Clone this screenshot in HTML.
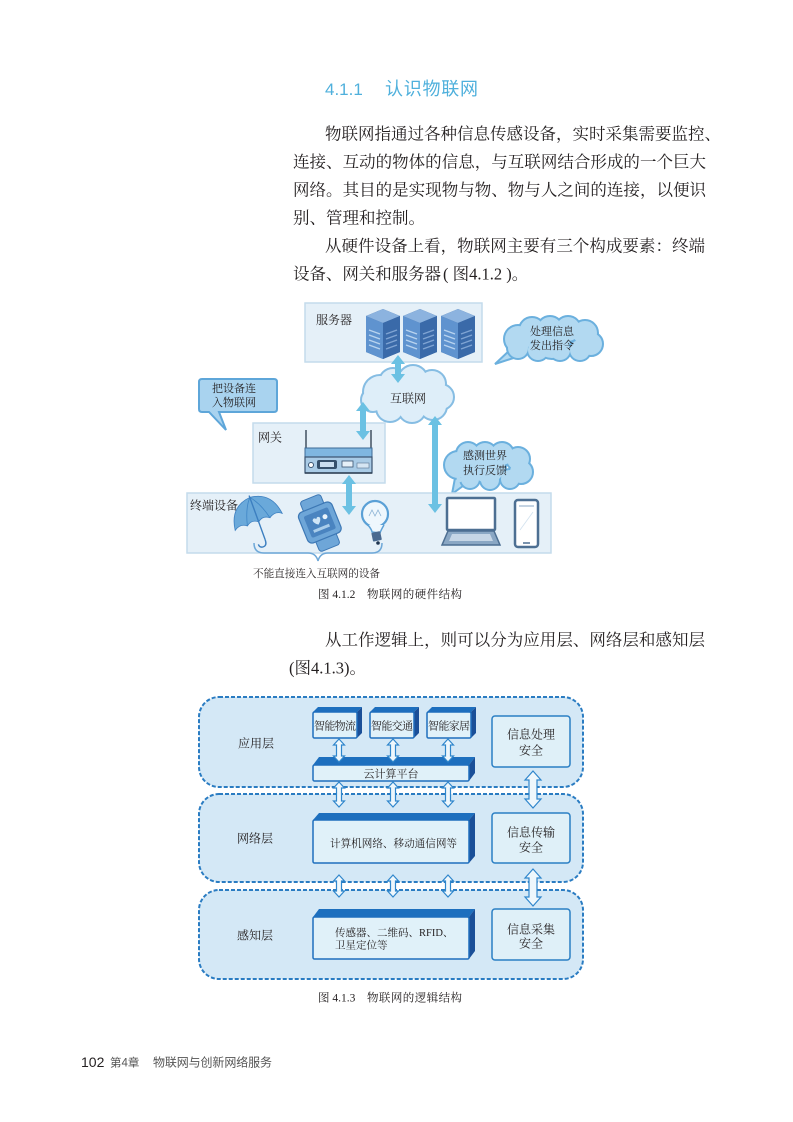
<!DOCTYPE html>
<html><head><meta charset="utf-8"><style>
html,body{margin:0;padding:0;background:#fff;}
svg{display:block;}
.b{font-family:"Liberation Serif","Noto Serif CJK SC",serif;font-size:16.5px;fill:#231f20;}
.f{font-family:"Liberation Serif","Noto Serif CJK SC",serif;fill:#231f20;}
.s{font-family:"Liberation Sans","Noto Sans CJK SC",sans-serif;}
</style></head><body>
<svg width="793" height="1122" viewBox="0 0 793 1122" xmlns="http://www.w3.org/2000/svg">
<!-- Heading -->
<text class="s" x="325" y="95" font-size="17" fill="#4fb0dc">4.1.1</text>
<text class="s" x="385" y="95" font-size="18" fill="#4fb0dc" textLength="93" lengthAdjust="spacing">认识物联网</text>

<!-- Paragraph 1 -->
<text class="b" x="325" y="139.3" textLength="396" lengthAdjust="spacing">物联网指通过各种信息传感设备，实时采集需要监控、</text>
<text class="b" x="293" y="167.3" textLength="413" lengthAdjust="spacing">连接、互动的物体的信息，与互联网结合形成的一个巨大</text>
<text class="b" x="293" y="195.3" textLength="413" lengthAdjust="spacing">网络。其目的是实现物与物、物与人之间的连接，以便识</text>
<text class="b" x="293" y="223.3">别、管理和控制。</text>
<text class="b" x="325" y="251.3" textLength="380" lengthAdjust="spacing">从硬件设备上看，物联网主要有三个构成要素：终端</text>
<text class="b" x="293" y="279.3" textLength="148" lengthAdjust="spacing">设备、网关和服务器</text>
<text class="b" x="443" y="279.3">( 图4.1.2 )。</text>

<!-- ============ FIGURE 1 ============ -->
<!-- server box -->
<rect x="305" y="303" width="177" height="59" fill="#e5f0f8" stroke="#c4dbec" stroke-width="1.5"/>
<text class="f" x="316" y="324" font-size="12">服务器</text>
<!-- servers -->
<g>
  <polygon points="366,316 383,309 400,316 400,352 383,359 366,352" fill="#2c5d9c"/>
  <polygon points="366,316 383,323 383,359 366,352" fill="#5f93cf"/>
  <polygon points="366,316 383,309 400,316 383,323" fill="#8cb3df"/>
  <polygon points="383,323 400,316 400,352 383,359" fill="#3a6aa9"/>
  <g stroke="#b8d3ef" stroke-width="1.4"><line x1="369" y1="330" x2="380" y2="334"/><line x1="369" y1="335" x2="380" y2="339"/><line x1="369" y1="340" x2="380" y2="344"/><line x1="369" y1="345" x2="380" y2="349"/></g>
  <g stroke="#7fa4d3" stroke-width="1.4"><line x1="386" y1="334" x2="397" y2="330"/><line x1="386" y1="339" x2="397" y2="335"/><line x1="386" y1="344" x2="397" y2="340"/><line x1="386" y1="349" x2="397" y2="345"/></g>
</g>
<g transform="translate(37,0)">
  <polygon points="366,316 383,309 400,316 400,352 383,359 366,352" fill="#2c5d9c"/>
  <polygon points="366,316 383,323 383,359 366,352" fill="#5f93cf"/>
  <polygon points="366,316 383,309 400,316 383,323" fill="#8cb3df"/>
  <polygon points="383,323 400,316 400,352 383,359" fill="#3a6aa9"/>
  <g stroke="#b8d3ef" stroke-width="1.4"><line x1="369" y1="330" x2="380" y2="334"/><line x1="369" y1="335" x2="380" y2="339"/><line x1="369" y1="340" x2="380" y2="344"/><line x1="369" y1="345" x2="380" y2="349"/></g>
  <g stroke="#7fa4d3" stroke-width="1.4"><line x1="386" y1="334" x2="397" y2="330"/><line x1="386" y1="339" x2="397" y2="335"/><line x1="386" y1="344" x2="397" y2="340"/><line x1="386" y1="349" x2="397" y2="345"/></g>
</g>
<g transform="translate(75,0)">
  <polygon points="366,316 383,309 400,316 400,352 383,359 366,352" fill="#2c5d9c"/>
  <polygon points="366,316 383,323 383,359 366,352" fill="#5f93cf"/>
  <polygon points="366,316 383,309 400,316 383,323" fill="#8cb3df"/>
  <polygon points="383,323 400,316 400,352 383,359" fill="#3a6aa9"/>
  <g stroke="#b8d3ef" stroke-width="1.4"><line x1="369" y1="330" x2="380" y2="334"/><line x1="369" y1="335" x2="380" y2="339"/><line x1="369" y1="340" x2="380" y2="344"/><line x1="369" y1="345" x2="380" y2="349"/></g>
  <g stroke="#7fa4d3" stroke-width="1.4"><line x1="386" y1="334" x2="397" y2="330"/><line x1="386" y1="339" x2="397" y2="335"/><line x1="386" y1="344" x2="397" y2="340"/><line x1="386" y1="349" x2="397" y2="345"/></g>
</g>

<!-- bubble 处理信息 -->
<polygon points="512,348 526,354 495,364" fill="#b2d9f1" stroke="#6bb0de" stroke-width="2"/>
<g fill="#b2d9f1" stroke="#6bb0de" stroke-width="4">
<circle cx="518" cy="339" r="13"/><circle cx="532" cy="330" r="12"/><circle cx="550" cy="329" r="12"/><circle cx="568" cy="329" r="12"/><circle cx="585" cy="333" r="12"/><circle cx="591" cy="344" r="11"/><circle cx="580" cy="350" r="10"/><circle cx="560" cy="350" r="10"/><circle cx="538" cy="350" r="10"/><circle cx="518" cy="348" r="10"/><circle cx="552" cy="340" r="18"/>
</g>
<g fill="#b2d9f1">
<circle cx="518" cy="339" r="13"/><circle cx="532" cy="330" r="12"/><circle cx="550" cy="329" r="12"/><circle cx="568" cy="329" r="12"/><circle cx="585" cy="333" r="12"/><circle cx="591" cy="344" r="11"/><circle cx="580" cy="350" r="10"/><circle cx="560" cy="350" r="10"/><circle cx="538" cy="350" r="10"/><circle cx="518" cy="348" r="10"/><circle cx="552" cy="340" r="18"/>
<polygon points="514,346 522,350 512,352"/>
</g>
<text class="f" x="530" y="335" font-size="11">处理信息</text>
<text class="f" x="530" y="349" font-size="11">发出指令</text>

<!-- cloud 互联网 -->
<g fill="#deeef9" stroke="#86bde3" stroke-width="4">
<circle cx="380" cy="392" r="16"/><circle cx="393" cy="382" r="13"/><circle cx="413" cy="380" r="14"/><circle cx="432" cy="384" r="13"/><circle cx="441" cy="397" r="12"/><circle cx="433" cy="406" r="13"/><circle cx="412" cy="409" r="13"/><circle cx="390" cy="408" r="13"/><circle cx="373" cy="400" r="11"/><circle cx="408" cy="395" r="20"/>
</g>
<g fill="#deeef9">
<circle cx="380" cy="392" r="16"/><circle cx="393" cy="382" r="13"/><circle cx="413" cy="380" r="14"/><circle cx="432" cy="384" r="13"/><circle cx="441" cy="397" r="12"/><circle cx="433" cy="406" r="13"/><circle cx="412" cy="409" r="13"/><circle cx="390" cy="408" r="13"/><circle cx="373" cy="400" r="11"/><circle cx="408" cy="395" r="20"/>
</g>
<text class="f" x="408" y="402.5" font-size="12" text-anchor="middle">互联网</text>

<!-- bubble 把设备连 -->
<path d="M202,379 H274 Q277,379 277,382 V409 Q277,412 274,412 H219 L226,430 L209,412 H202 Q199,412 199,409 V382 Q199,379 202,379 Z" fill="#a9d3ef" stroke="#5ea6d9" stroke-width="2"/>
<text class="f" x="212" y="392" font-size="11">把设备连</text>
<text class="f" x="212" y="406" font-size="11">入物联网</text>

<!-- gateway box -->
<rect x="253" y="423" width="132" height="60" fill="#e5f0f8" stroke="#c4dbec" stroke-width="1.5"/>
<text class="f" x="258" y="441.5" font-size="12">网关</text>
<!-- router -->
<line x1="306" y1="430" x2="306" y2="452" stroke="#4a5a6a" stroke-width="1.6"/>
<line x1="371" y1="430" x2="371" y2="452" stroke="#4a5a6a" stroke-width="1.6"/>
<rect x="305" y="448" width="67" height="9" fill="#7fb6e0" stroke="#3d6a96" stroke-width="1"/>
<rect x="305" y="457" width="67" height="16" fill="#a9cbe6" stroke="#3a5370" stroke-width="1.2"/>
<circle cx="311" cy="465" r="2.5" fill="#fff" stroke="#3a5370"/>
<rect x="317" y="460" width="20" height="9" rx="2" fill="#35506c"/>
<rect x="320" y="462" width="14" height="5" fill="#c9ddef"/>
<rect x="342" y="461" width="11" height="6" fill="#e6f0f8" stroke="#3a5370" stroke-width="0.8"/>
<rect x="357" y="463" width="12" height="5" fill="#d5e5f3" stroke="#5a7390" stroke-width="0.6"/>
<line x1="305" y1="473" x2="372" y2="473" stroke="#2c3e52" stroke-width="1.6"/>

<!-- bubble 感测世界 -->
<polygon points="455,478 467,483 452,494" fill="#b2d9f1" stroke="#6bb0de" stroke-width="2"/>
<g fill="#b2d9f1" stroke="#6bb0de" stroke-width="4">
<circle cx="458" cy="465" r="13"/><circle cx="468" cy="454" r="11"/><circle cx="485" cy="454" r="11"/><circle cx="502" cy="454" r="11"/><circle cx="518" cy="459" r="11"/><circle cx="521" cy="472" r="11"/><circle cx="510" cy="479" r="9"/><circle cx="490" cy="480" r="9"/><circle cx="470" cy="479" r="9"/><circle cx="488" cy="466" r="17"/>
</g>
<g fill="#b2d9f1">
<circle cx="458" cy="465" r="13"/><circle cx="468" cy="454" r="11"/><circle cx="485" cy="454" r="11"/><circle cx="502" cy="454" r="11"/><circle cx="518" cy="459" r="11"/><circle cx="521" cy="472" r="11"/><circle cx="510" cy="479" r="9"/><circle cx="490" cy="480" r="9"/><circle cx="470" cy="479" r="9"/><circle cx="488" cy="466" r="17"/>
<polygon points="457,476 465,480 456,484"/>
</g>
<text class="f" x="463" y="459" font-size="11">感测世界</text>
<text class="f" x="463" y="474" font-size="11">执行反馈</text>

<!-- terminal box -->
<rect x="187" y="493" width="364" height="60" fill="#e5f0f8" stroke="#c4dbec" stroke-width="1.5"/>
<text class="f" x="190" y="509.5" font-size="12">终端设备</text>

<!-- umbrella -->
<g transform="rotate(-20 258 520)">
  <path d="M233,522 Q236,498 258,496 Q280,498 283,522 Q277,517 270,522 Q264,517 258,522 Q252,517 246,522 Q240,517 233,522 Z" fill="#6aa9da" stroke="#3c7fc0" stroke-width="0.8"/>
  <path d="M258,496 Q250,505 246,522 M258,496 Q266,505 270,522" stroke="#3f86c6" stroke-width="0.8" fill="none"/>
  <line x1="258" y1="494" x2="258" y2="541" stroke="#3c7fc0" stroke-width="1.4"/>
  <path d="M258,541 Q258,547 254,547 Q250,547 250,543" stroke="#3c7fc0" stroke-width="1.4" fill="none"/>
</g>
<!-- watch -->
<g transform="rotate(-22 320 523)">
  <rect x="309" y="496" width="22" height="14" rx="3" fill="#6ea6d8" stroke="#3d78b5" stroke-width="1"/>
  <rect x="309" y="536" width="22" height="14" rx="3" fill="#6ea6d8" stroke="#3d78b5" stroke-width="1"/>
  <rect x="302" y="506" width="36" height="33" rx="5" fill="#6ea6d8" stroke="#3d78b5" stroke-width="1.2"/>
  <rect x="307" y="511" width="26" height="23" rx="2" fill="#4a84c0"/>
  <path d="M314,518 q2,-3 4,0 q2,-3 4,0 q0,3 -4,6 q-4,-3 -4,-6z" fill="#cfe5f6"/>
  <circle cx="327" cy="519" r="2.5" fill="#eaf4fb"/>
  <rect x="311" y="527" width="17" height="3" fill="#a9cdea"/>
</g>
<!-- bulb -->
<g>
  <circle cx="375" cy="514" r="13" fill="#eef7fd" stroke="#5aa0d6" stroke-width="2.2"/>
  <path d="M369,516 l3,-6 l3,6 l3,-6 l3,6" stroke="#8ab2d4" stroke-width="0.8" fill="none"/>
  <path d="M368,525 Q372,530 372,532 L380,533 Q381,530 384,525" fill="#eef7fd" stroke="#5aa0d6" stroke-width="1.5"/>
  <rect x="372" y="532" width="9" height="9" rx="1" fill="#4a6a90" transform="rotate(-12 376 536)"/>
  <circle cx="378" cy="543" r="1.8" fill="#1f3550"/>
</g>
<!-- laptop -->
<rect x="447" y="498" width="48" height="32" rx="1" fill="#fff" stroke="#4d6f92" stroke-width="2.5"/>
<polygon points="442,545 500,545 494,531 448,531" fill="#8aa7c4" stroke="#4d6f92" stroke-width="1.5"/>
<polygon points="452,534 490,534 493,541 449,541" fill="#c6d6e6"/>
<!-- phone -->
<rect x="515" y="500" width="23" height="47" rx="3" fill="#fff" stroke="#4d6f92" stroke-width="2.5"/>
<line x1="519" y1="506" x2="534" y2="506" stroke="#8aa7c4" stroke-width="1"/>
<line x1="523" y1="543" x2="530" y2="543" stroke="#4d6f92" stroke-width="1.5"/>
<line x1="520" y1="530" x2="533" y2="512" stroke="#d2e2ef" stroke-width="0.8"/>

<!-- solid arrows fig1 -->
<g fill="#6bc1e3">
  <polygon points="398,355 405,364 401,364 401,374 405,374 398,383 391,374 395,374 395,364 391,364"/>
  <polygon points="363,402 370,411 366,411 366,431 370,431 363,440 356,431 360,431 360,411 356,411"/>
  <polygon points="349,475 356,484 352,484 352,506 356,506 349,515 342,506 346,506 346,484 342,484"/>
  <polygon points="435,416 442,425 438,425 438,504 442,504 435,513 428,504 432,504 432,425 428,425"/>
</g>

<!-- brace -->
<path d="M254,543 Q254,553 264,553 L308,553 Q316,553 318,561 Q320,553 328,553 L372,553 Q382,553 382,543" stroke="#6ea8d8" stroke-width="1.5" fill="none"/>
<text class="f" x="253" y="577" font-size="10.6" textLength="127" lengthAdjust="spacing">不能直接连入互联网的设备</text>
<text class="f" x="318" y="598" font-size="11.5" fill="#333">图 4.1.2</text>
<text class="f" x="367" y="598" font-size="11.5" textLength="95" lengthAdjust="spacing" fill="#333">物联网的硬件结构</text>

<!-- Paragraph 2 -->
<text class="b" x="325" y="645.3" textLength="380" lengthAdjust="spacing">从工作逻辑上，则可以分为应用层、网络层和感知层</text>
<text class="b" x="289" y="673.3">(图4.1.3)。</text>

<!-- ============ FIGURE 2 ============ -->
<rect x="199" y="697" width="384" height="90" rx="20" fill="#d4e8f6" stroke="#2a7cc2" stroke-width="2" stroke-dasharray="4 2"/>
<rect x="199" y="794" width="384" height="88" rx="20" fill="#d4e8f6" stroke="#2a7cc2" stroke-width="2" stroke-dasharray="4 2"/>
<rect x="199" y="890" width="384" height="89" rx="20" fill="#d4e8f6" stroke="#2a7cc2" stroke-width="2" stroke-dasharray="4 2"/>

<text class="f" x="238" y="747.5" font-size="12">应用层</text>
<text class="f" x="237" y="842.5" font-size="12">网络层</text>
<text class="f" x="237" y="939.5" font-size="12">感知层</text>

<!-- small boxes -->
<g>
  <polygon points="313,712 318,707 362,707 357,712" fill="#1d6fbe"/>
  <polygon points="357,712 362,707 362,733 357,738" fill="#1a4f98"/>
  <rect x="313" y="712" width="44" height="26" rx="1.5" fill="#e0f1f9" stroke="#1f6fbd" stroke-width="1.5"/>
  <text class="f" x="314" y="729.5" font-size="11" textLength="42" lengthAdjust="spacing">智能物流</text>
</g>
<g>
  <polygon points="370,712 375,707 419,707 414,712" fill="#1d6fbe"/>
  <polygon points="414,712 419,707 419,733 414,738" fill="#1a4f98"/>
  <rect x="370" y="712" width="44" height="26" rx="1.5" fill="#e0f1f9" stroke="#1f6fbd" stroke-width="1.5"/>
  <text class="f" x="371" y="729.5" font-size="11" textLength="42" lengthAdjust="spacing">智能交通</text>
</g>
<g>
  <polygon points="427,712 432,707 476,707 471,712" fill="#1d6fbe"/>
  <polygon points="471,712 476,707 476,733 471,738" fill="#1a4f98"/>
  <rect x="427" y="712" width="44" height="26" rx="1.5" fill="#e0f1f9" stroke="#1f6fbd" stroke-width="1.5"/>
  <text class="f" x="428" y="729.5" font-size="11" textLength="42" lengthAdjust="spacing">智能家居</text>
</g>
<!-- cloud platform -->
<polygon points="313,765 319,757 475,757 469,765" fill="#1d6fbe"/>
<polygon points="469,765 475,757 475,773 469,781" fill="#1a4f98"/>
<rect x="313" y="765" width="156" height="16" rx="1.5" fill="#e0f1f9" stroke="#1f6fbd" stroke-width="1.5"/>
<text class="f" x="391" y="777.5" font-size="11" text-anchor="middle">云计算平台</text>

<!-- network box -->
<polygon points="313,820 319,813 475,813 469,820" fill="#1d6fbe"/>
<polygon points="469,820 475,813 475,856 469,863" fill="#1a4f98"/>
<rect x="313" y="820" width="156" height="43" rx="1.5" fill="#e0f1f9" stroke="#1f6fbd" stroke-width="1.5"/>
<text class="f" x="330" y="847" font-size="10.6" textLength="127" lengthAdjust="spacing">计算机网络、移动通信网等</text>

<!-- sensing box -->
<polygon points="313,917 319,909 475,909 469,917" fill="#1d6fbe"/>
<polygon points="469,917 475,909 475,951 469,959" fill="#1a4f98"/>
<rect x="313" y="917" width="156" height="42" rx="1.5" fill="#e0f1f9" stroke="#1f6fbd" stroke-width="1.5"/>
<text class="f" x="335" y="936" font-size="10.5">传感器、二维码、RFID、</text>
<text class="f" x="335" y="948.5" font-size="10.5">卫星定位等</text>

<!-- right boxes -->
<rect x="492" y="716" width="78" height="51" rx="3" fill="#dff0f8" stroke="#2a7fc4" stroke-width="1.5"/>
<text class="f" x="531" y="738.6" font-size="12" text-anchor="middle">信息处理</text>
<text class="f" x="531" y="754.5" font-size="12" text-anchor="middle">安全</text>
<rect x="492" y="813" width="78" height="50" rx="3" fill="#dff0f8" stroke="#2a7fc4" stroke-width="1.5"/>
<text class="f" x="531" y="836.6" font-size="12" text-anchor="middle">信息传输</text>
<text class="f" x="531" y="851.6" font-size="12" text-anchor="middle">安全</text>
<rect x="492" y="909" width="78" height="51" rx="3" fill="#dff0f8" stroke="#2a7fc4" stroke-width="1.5"/>
<text class="f" x="531" y="933.6" font-size="12" text-anchor="middle">信息采集</text>
<text class="f" x="531" y="947.6" font-size="12" text-anchor="middle">安全</text>

<!-- hollow arrows -->
<g fill="#eef7fc" stroke="#2f86cc" stroke-width="1.2">
  <polygon points="339,739 344.5,745 341.5,745 341.5,756 344.5,756 339,762 333.5,756 336.5,756 336.5,745 333.5,745"/>
  <polygon points="393,739 398.5,745 395.5,745 395.5,756 398.5,756 393,762 387.5,756 390.5,756 390.5,745 387.5,745"/>
  <polygon points="448,739 453.5,745 450.5,745 450.5,756 453.5,756 448,762 442.5,756 445.5,756 445.5,745 442.5,745"/>

  <polygon points="339,782 344.5,788 341.5,788 341.5,801 344.5,801 339,807 333.5,801 336.5,801 336.5,788 333.5,788"/>
  <polygon points="393,782 398.5,788 395.5,788 395.5,801 398.5,801 393,807 387.5,801 390.5,801 390.5,788 387.5,788"/>
  <polygon points="448,782 453.5,788 450.5,788 450.5,801 453.5,801 448,807 442.5,801 445.5,801 445.5,788 442.5,788"/>

  <polygon points="339,875 344.5,881 341.5,881 341.5,891 344.5,891 339,897 333.5,891 336.5,891 336.5,881 333.5,881"/>
  <polygon points="393,875 398.5,881 395.5,881 395.5,891 398.5,891 393,897 387.5,891 390.5,891 390.5,881 387.5,881"/>
  <polygon points="448,875 453.5,881 450.5,881 450.5,891 453.5,891 448,897 442.5,891 445.5,891 445.5,881 442.5,881"/>

  <polygon points="533,771 541,780 537,780 537,799 541,799 533,808 525,799 529,799 529,780 525,780"/>
  <polygon points="533,869 541,878 537,878 537,897 541,897 533,906 525,897 529,897 529,878 525,878"/>
</g>

<text class="f" x="318" y="1001.5" font-size="11.5" fill="#333">图 4.1.3</text>
<text class="f" x="367" y="1001.5" font-size="11.5" textLength="95" lengthAdjust="spacing" fill="#333">物联网的逻辑结构</text>

<!-- footer -->
<text class="s" x="81" y="1067" font-size="14" fill="#231f20">102</text>
<text class="s" x="110" y="1066.5" font-size="11.5" fill="#555">第4章</text>
<text class="s" x="153" y="1066.5" font-size="12" fill="#555" textLength="119" lengthAdjust="spacing">物联网与创新网络服务</text>
</svg>
</body></html>
